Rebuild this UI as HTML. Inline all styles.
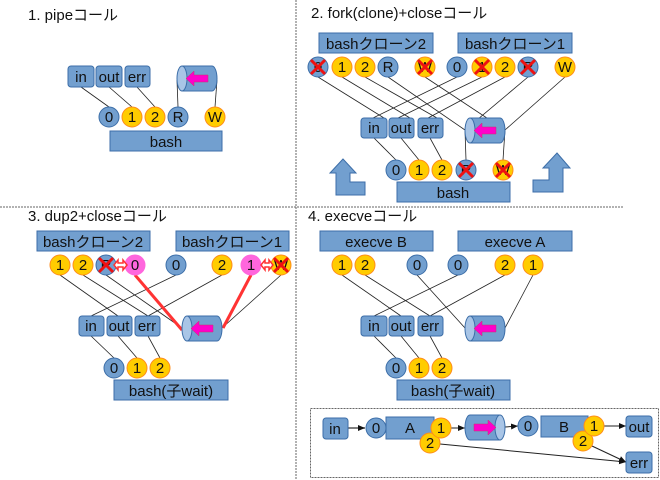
<!DOCTYPE html>
<html><head><meta charset="utf-8"><style>
html,body{margin:0;padding:0;background:#fff}
svg{display:block}
text{font-family:"Liberation Sans","Noto Sans CJK JP",sans-serif;fill:#111}
.b{fill:#729fcf;stroke:#3c6ea8;stroke-width:1}
.o{fill:#ffcc00;stroke:#ff8c1a;stroke-width:1}
.p{fill:#ff66dd;stroke:#ff66dd}
.l{stroke:#222;stroke-width:0.8;fill:none}
.r{stroke:#ff3333;stroke-width:3;fill:none}
.x{stroke:#ee1111;stroke-width:3}
.c{font-size:15px;text-anchor:middle}
.t{font-size:15px}
</style></head><body>
<svg width="660" height="480" viewBox="0 0 660 480" xmlns="http://www.w3.org/2000/svg">
<defs>
<marker id="ar" markerWidth="8" markerHeight="8" refX="7" refY="4" orient="auto" markerUnits="userSpaceOnUse"><path d="M0,1 L7,4 L0,7 Z" fill="#111"/></marker>
</defs>
<!-- dividers -->
<line x1="296" y1="0" x2="296" y2="480" stroke="#666" stroke-dasharray="2,1"/>
<line x1="0" y1="207" x2="624" y2="207" stroke="#666" stroke-dasharray="2,1"/>
<rect x="310.5" y="408.5" width="348" height="69" fill="none" stroke="#666" stroke-dasharray="2,1"/>

<!-- titles -->
<text x="28" y="20" class="t">1. pipeコール</text>
<text x="311" y="18" class="t">2. fork(clone)+closeコール</text>
<text x="28" y="221" class="t">3. dup2+closeコール</text>
<text x="308" y="221" class="t">4. execveコール</text>

<!-- ===== Panel 1 ===== -->
<line class="l" x1="81" y1="87" x2="109" y2="107"/>
<line class="l" x1="109" y1="87" x2="132" y2="107"/>
<line class="l" x1="137" y1="87" x2="155" y2="107"/>
<line class="l" x1="177" y1="80" x2="178" y2="107"/>
<line class="l" x1="217" y1="80" x2="215" y2="107"/>
<rect class="b" x="68" y="66" width="26" height="21" rx="3"/><text class="c" x="81" y="82">in</text>
<rect class="b" x="96" y="66" width="26" height="21" rx="3"/><text class="c" x="109" y="82">out</text>
<rect class="b" x="125" y="66" width="25" height="21" rx="3"/><text class="c" x="137" y="82">err</text>
<g transform="translate(177,66)">
<path class="b" d="M5,0 L35,0 A5,12.5 0 0 1 35,25 L5,25 Z"/><ellipse cx="5" cy="12.5" rx="5" ry="12.5" fill="#a9c5e6" stroke="#3c6ea8"/>
<polygon points="9,12.5 17,5 17,9 31,9 31,16 17,16 17,20" fill="#ff00cc" stroke="#cc3366" stroke-width="0.5"/></g>
<circle class="b" cx="109" cy="117" r="10"/><text class="c" x="109" y="122">0</text>
<circle class="o" cx="132" cy="117" r="10"/><text class="c" x="132" y="122">1</text>
<circle class="o" cx="155" cy="117" r="10"/><text class="c" x="155" y="122">2</text>
<circle class="b" cx="178" cy="117" r="10"/><text class="c" x="178" y="122">R</text>
<circle class="o" cx="215" cy="117" r="10"/><text class="c" x="215" y="122">W</text>
<rect class="b" x="110" y="131" width="112" height="20"/><text class="c" x="166" y="147">bash</text>

<!-- ===== Panel 2 ===== -->
<line class="l" x1="318" y1="77" x2="384" y2="118"/>
<line class="l" x1="342" y1="77" x2="410" y2="118"/>
<line class="l" x1="365" y1="77" x2="437" y2="118"/>
<line class="l" x1="388" y1="77" x2="465" y2="130"/>
<line class="l" x1="425" y1="77" x2="505" y2="130"/>
<line class="l" x1="457" y1="77" x2="373" y2="118"/>
<line class="l" x1="482" y1="77" x2="398" y2="118"/>
<line class="l" x1="505" y1="77" x2="428" y2="118"/>
<line class="l" x1="528" y1="77" x2="465" y2="130"/>
<line class="l" x1="565" y1="77" x2="505" y2="130"/>
<line class="l" x1="374" y1="138" x2="396" y2="160"/>
<line class="l" x1="401" y1="138" x2="419" y2="160"/>
<line class="l" x1="430" y1="138" x2="442" y2="160"/>
<line class="l" x1="465" y1="130" x2="466" y2="160"/>
<line class="l" x1="505" y1="130" x2="503" y2="160"/>
<rect class="b" x="319" y="33" width="114" height="20"/><text class="c" x="376" y="49">bashクローン2</text>
<rect class="b" x="458" y="33" width="114" height="20"/><text class="c" x="515" y="49">bashクローン1</text>
<circle class="b" cx="318" cy="67" r="10"/><text class="c" x="318" y="72">0</text>
<circle class="o" cx="342" cy="67" r="10"/><text class="c" x="342" y="72">1</text>
<circle class="o" cx="365" cy="67" r="10"/><text class="c" x="365" y="72">2</text>
<circle class="b" cx="388" cy="67" r="10"/><text class="c" x="388" y="72">R</text>
<circle class="o" cx="425" cy="67" r="10"/><text class="c" x="425" y="72">W</text>
<circle class="b" cx="457" cy="67" r="10"/><text class="c" x="457" y="72">0</text>
<circle class="o" cx="482" cy="67" r="10"/><text class="c" x="482" y="72">1</text>
<circle class="o" cx="505" cy="67" r="10"/><text class="c" x="505" y="72">2</text>
<circle class="b" cx="528" cy="67" r="10"/><text class="c" x="528" y="72">R</text>
<circle class="o" cx="565" cy="67" r="10"/><text class="c" x="565" y="72">W</text>
<g class="x"><line x1="311" y1="60" x2="325" y2="74"/><line x1="325" y1="60" x2="311" y2="74"/>
<line x1="418" y1="60" x2="432" y2="74"/><line x1="432" y1="60" x2="418" y2="74"/>
<line x1="475" y1="60" x2="489" y2="74"/><line x1="489" y1="60" x2="475" y2="74"/>
<line x1="521" y1="60" x2="535" y2="74"/><line x1="535" y1="60" x2="521" y2="74"/></g>
<rect class="b" x="361" y="118" width="26" height="20" rx="3"/><text class="c" x="374" y="133">in</text>
<rect class="b" x="389" y="118" width="25" height="20" rx="3"/><text class="c" x="401" y="133">out</text>
<rect class="b" x="418" y="118" width="25" height="20" rx="3"/><text class="c" x="430" y="133">err</text>
<g transform="translate(465,118)">
<path class="b" d="M5,0 L35,0 A5,12.5 0 0 1 35,25 L5,25 Z"/><ellipse cx="5" cy="12.5" rx="5" ry="12.5" fill="#a9c5e6" stroke="#3c6ea8"/>
<polygon points="9,12.5 17,5 17,9 31,9 31,16 17,16 17,20" fill="#ff00cc" stroke="#cc3366" stroke-width="0.5"/></g>
<circle class="b" cx="396" cy="170" r="10"/><text class="c" x="396" y="175">0</text>
<circle class="o" cx="419" cy="170" r="10"/><text class="c" x="419" y="175">1</text>
<circle class="o" cx="442" cy="170" r="10"/><text class="c" x="442" y="175">2</text>
<circle class="b" cx="466" cy="170" r="10"/><text class="c" x="466" y="175">R</text>
<circle class="o" cx="503" cy="170" r="10"/><text class="c" x="503" y="175">W</text>
<g class="x"><line x1="459" y1="163" x2="473" y2="177"/><line x1="473" y1="163" x2="459" y2="177"/>
<line x1="496" y1="163" x2="510" y2="177"/><line x1="510" y1="163" x2="496" y2="177"/></g>
<rect class="b" x="397" y="182" width="113" height="20"/><text class="c" x="453" y="198">bash</text>
<polygon class="b" points="343,159 330,173 336,173 336,195 365,195 365,182 350,182 350,173 356,173"/>
<polygon class="b" points="557,153 570,168 563,168 563,192 533,192 533,180 549,180 549,168 543,168"/>

<!-- ===== Panel 3 ===== -->
<line class="l" x1="60" y1="275" x2="118" y2="316"/>
<line class="l" x1="83" y1="275" x2="148" y2="316"/>
<line class="l" x1="106" y1="275" x2="182" y2="328"/>
<line class="l" x1="176" y1="275" x2="91" y2="316"/>
<line class="l" x1="222" y1="275" x2="148" y2="316"/>
<line class="l" x1="281" y1="275" x2="222" y2="328"/>
<line class="r" x1="135" y1="275" x2="182" y2="330"/>
<line class="r" x1="251" y1="275" x2="223" y2="328"/>
<line class="l" x1="91" y1="336" x2="114" y2="358"/>
<line class="l" x1="118" y1="336" x2="137" y2="358"/>
<line class="l" x1="148" y1="336" x2="160" y2="358"/>
<rect class="b" x="37" y="231" width="113" height="20"/><text class="c" x="93" y="247">bashクローン2</text>
<rect class="b" x="176" y="231" width="113" height="20"/><text class="c" x="232" y="247">bashクローン1</text>
<circle class="o" cx="60" cy="265" r="10"/><text class="c" x="60" y="270">1</text>
<circle class="o" cx="83" cy="265" r="10"/><text class="c" x="83" y="270">2</text>
<circle class="b" cx="106" cy="265" r="10"/><text class="c" x="106" y="270">R</text>
<circle class="p" cx="135" cy="265" r="10"/><text class="c" x="135" y="270">0</text>
<circle class="b" cx="176" cy="265" r="10"/><text class="c" x="176" y="270">0</text>
<circle class="o" cx="222" cy="265" r="10"/><text class="c" x="222" y="270">2</text>
<circle class="p" cx="251" cy="265" r="10"/><text class="c" x="251" y="270">1</text>
<circle class="o" cx="281" cy="265" r="10"/><text class="c" x="281" y="270">W</text>
<g class="x"><line x1="99" y1="258" x2="113" y2="272"/><line x1="113" y1="258" x2="99" y2="272"/>
<line x1="274" y1="258" x2="288" y2="272"/><line x1="288" y1="258" x2="274" y2="272"/></g>
<polygon points="114,265 118,260 118,263 123,263 123,260 127,265 123,270 123,267 118,267 118,270" fill="#fff" stroke="#ff3333" stroke-width="1.5"/>
<polygon points="261,265 265,260 265,263 269,263 269,260 273,265 269,270 269,267 265,267 265,270" fill="#fff" stroke="#ff3333" stroke-width="1.5"/>
<rect class="b" x="79" y="316" width="25" height="20" rx="3"/><text class="c" x="91" y="331">in</text>
<rect class="b" x="107" y="316" width="25" height="20" rx="3"/><text class="c" x="119" y="331">out</text>
<rect class="b" x="135" y="316" width="25" height="20" rx="3"/><text class="c" x="147" y="331">err</text>
<g transform="translate(182,316)">
<path class="b" d="M5,0 L35,0 A5,12.5 0 0 1 35,25 L5,25 Z"/><ellipse cx="5" cy="12.5" rx="5" ry="12.5" fill="#a9c5e6" stroke="#3c6ea8"/>
<polygon points="9,12.5 17,5 17,9 31,9 31,16 17,16 17,20" fill="#ff00cc" stroke="#cc3366" stroke-width="0.5"/></g>
<circle class="b" cx="114" cy="368" r="10"/><text class="c" x="114" y="373">0</text>
<circle class="o" cx="137" cy="368" r="10"/><text class="c" x="137" y="373">1</text>
<circle class="o" cx="160" cy="368" r="10"/><text class="c" x="160" y="373">2</text>
<rect class="b" x="114" y="380" width="114" height="20"/><text class="c" x="171" y="396">bash(子wait)</text>

<!-- ===== Panel 4 ===== -->
<line class="l" x1="342" y1="275" x2="401" y2="316"/>
<line class="l" x1="365" y1="275" x2="430" y2="316"/>
<line class="l" x1="417" y1="275" x2="465" y2="328"/>
<line class="l" x1="458" y1="275" x2="374" y2="316"/>
<line class="l" x1="505" y1="275" x2="430" y2="316"/>
<line class="l" x1="533" y1="275" x2="505" y2="328"/>
<line class="l" x1="374" y1="336" x2="396" y2="358"/>
<line class="l" x1="401" y1="336" x2="419" y2="358"/>
<line class="l" x1="430" y1="336" x2="442" y2="358"/>
<rect class="b" x="320" y="231" width="113" height="20"/><text class="c" x="376" y="247">execve B</text>
<rect class="b" x="458" y="231" width="114" height="20"/><text class="c" x="515" y="247">execve A</text>
<circle class="o" cx="342" cy="265" r="10"/><text class="c" x="342" y="270">1</text>
<circle class="o" cx="365" cy="265" r="10"/><text class="c" x="365" y="270">2</text>
<circle class="b" cx="417" cy="265" r="10"/><text class="c" x="417" y="270">0</text>
<circle class="b" cx="458" cy="265" r="10"/><text class="c" x="458" y="270">0</text>
<circle class="o" cx="505" cy="265" r="10"/><text class="c" x="505" y="270">2</text>
<circle class="o" cx="533" cy="265" r="10"/><text class="c" x="533" y="270">1</text>
<rect class="b" x="361" y="316" width="26" height="20" rx="3"/><text class="c" x="374" y="331">in</text>
<rect class="b" x="389" y="316" width="25" height="20" rx="3"/><text class="c" x="401" y="331">out</text>
<rect class="b" x="418" y="316" width="25" height="20" rx="3"/><text class="c" x="430" y="331">err</text>
<g transform="translate(465,316)">
<path class="b" d="M5,0 L35,0 A5,12.5 0 0 1 35,25 L5,25 Z"/><ellipse cx="5" cy="12.5" rx="5" ry="12.5" fill="#a9c5e6" stroke="#3c6ea8"/>
<polygon points="9,12.5 17,5 17,9 31,9 31,16 17,16 17,20" fill="#ff00cc" stroke="#cc3366" stroke-width="0.5"/></g>
<circle class="b" cx="396" cy="368" r="10"/><text class="c" x="396" y="373">0</text>
<circle class="o" cx="419" cy="368" r="10"/><text class="c" x="419" y="373">1</text>
<circle class="o" cx="442" cy="368" r="10"/><text class="c" x="442" y="373">2</text>
<rect class="b" x="397" y="380" width="113" height="20"/><text class="c" x="453" y="396">bash(子wait)</text>

<!-- ===== Bottom box ===== -->
<line x1="348" y1="428" x2="365" y2="428" stroke="#555" stroke-width="1.5" marker-end="url(#ar)"/>
<line x1="451" y1="428" x2="465" y2="428" stroke="#222" stroke-width="1" marker-end="url(#ar)"/>
<line x1="505" y1="427" x2="518" y2="426" stroke="#222" stroke-width="1" marker-end="url(#ar)"/>
<line x1="604" y1="426" x2="626" y2="426" stroke="#222" stroke-width="1" marker-end="url(#ar)"/>
<line x1="440" y1="444" x2="626" y2="462" stroke="#222" stroke-width="1" marker-end="url(#ar)"/>
<line x1="592" y1="446" x2="626" y2="462" stroke="#222" stroke-width="1" marker-end="url(#ar)"/>
<rect class="b" x="323" y="418" width="25" height="21" rx="3"/><text class="c" x="335" y="434">in</text>
<rect class="b" x="386" y="417" width="48" height="22"/><text class="c" x="410" y="433">A</text>
<circle class="b" cx="376" cy="428" r="10"/><text class="c" x="376" y="433">0</text>
<circle class="o" cx="430" cy="443" r="10"/><text class="c" x="430" y="448">2</text>
<circle class="o" cx="441" cy="428" r="10"/><text class="c" x="441" y="433">1</text>
<g transform="translate(465,415)">
<path class="b" d="M35,0 L5,0 A5,12.5 0 0 0 5,25 L35,25 Z"/><ellipse cx="35" cy="12.5" rx="5" ry="12.5" fill="#a9c5e6" stroke="#3c6ea8"/>
<polygon points="31,12.5 23,5 23,9 9,9 9,16 23,16 23,20" fill="#ff00cc" stroke="#cc3366" stroke-width="0.5"/></g>
<rect class="b" x="541" y="416" width="47" height="21"/><text class="c" x="564" y="432">B</text>
<circle class="b" cx="528" cy="426" r="10"/><text class="c" x="528" y="431">0</text>
<circle class="o" cx="583" cy="441" r="10"/><text class="c" x="583" y="446">2</text>
<circle class="o" cx="594" cy="426" r="10"/><text class="c" x="594" y="431">1</text>
<rect class="b" x="626" y="416" width="26" height="21" rx="3"/><text class="c" x="639" y="432">out</text>
<rect class="b" x="626" y="452" width="26" height="21" rx="3"/><text class="c" x="639" y="468">err</text>
</svg>
</body></html>
